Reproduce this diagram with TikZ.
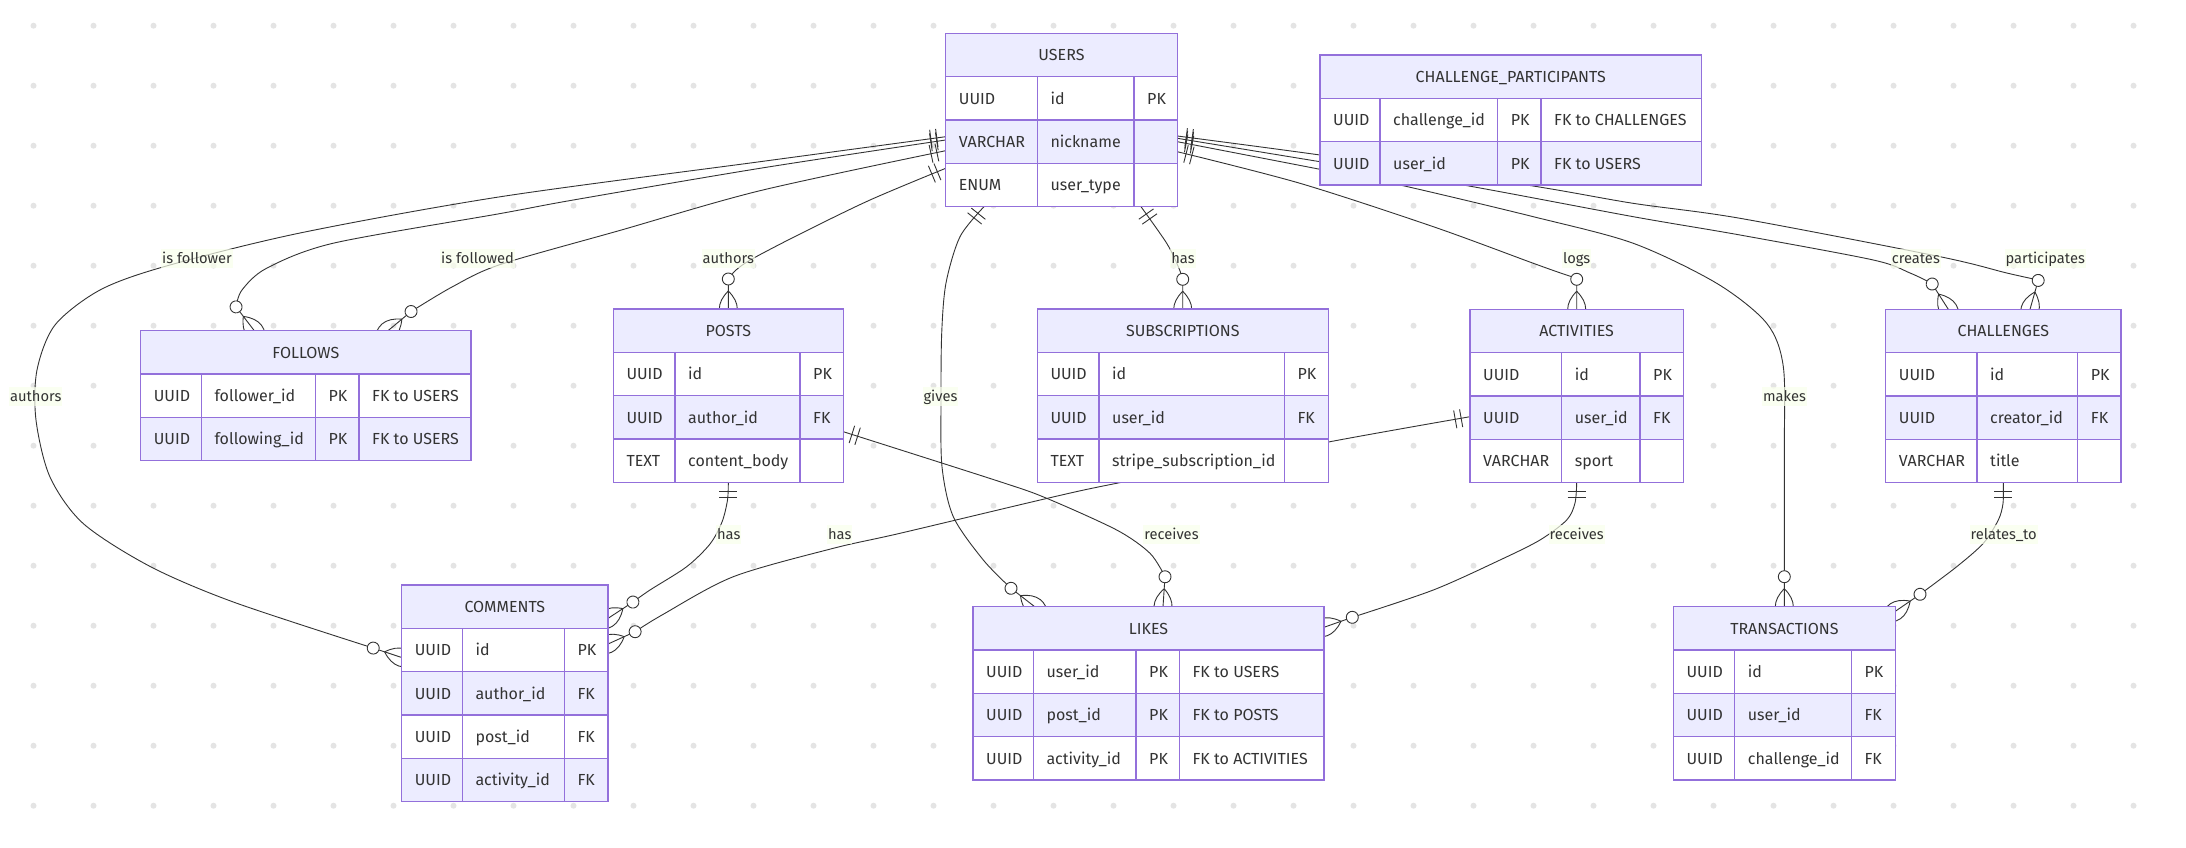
\documentclass[tikz,border=0pt]{standalone}
\usepackage{fontspec}
\setmainfont{Fira Sans}
\definecolor{lav}{HTML}{ECECFF}
\definecolor{pur}{HTML}{9370DB}
\definecolor{txt}{HTML}{333333}
\definecolor{dotc}{HTML}{E4E4E4}
\definecolor{lblbg}{HTML}{F9FFEC}
\definecolor{edgec}{HTML}{333333}
\tikzset{
  cellb/.style={draw=pur, line width=1.2pt},
  ctext/.style={anchor=west, inner sep=0pt, text height=11.5pt, text depth=0pt, text=txt, font=\fontsize{16}{19}\selectfont},
  htext/.style={inner sep=0pt, text height=11.5pt, text depth=0pt, text=txt, font=\fontsize{16}{19}\selectfont},
  rel/.style={draw=edgec, line width=0.9pt},
  mk/.style={draw=edgec, line width=0.9pt},
  lbl/.style={fill=lblbg, fill opacity=0.7, text opacity=1, text=txt, inner xsep=1pt, inner ysep=2.5pt, text height=12pt, text depth=2pt, font=\fontsize{14.7}{17}\selectfont},
}
\newcommand\settable[7]{\def\tbname{#1}\def\tT{#2}\def\xA{#3}\def\xB{#4}\def\xC{#5}\def\xD{#6}\def\xE{#7}}
\newcommand\hdr[1]{%
  \pgfmathsetmacro\yb{\tT+43.333}\pgfmathsetmacro\ym{\tT+21.667}\pgfmathsetmacro\xm{(\xA+\xE)/2}%
  \draw[cellb, fill=lav] (\xA,\tT) rectangle (\xE,\yb);%
  \node[htext] (\tbname) at (\xm,\ym) {#1};}
\newcommand\rowIII[4]{%
  \pgfmathsetmacro\yt{\tT+43.333*#1}\pgfmathsetmacro\yb{\yt+43.333}\pgfmathsetmacro\ym{\yt+21.667}%
  \ifodd#1 \def\rf{white}\else\def\rf{lav}\fi
  \draw[cellb, fill=\rf] (\xA,\yt) rectangle (\xB,\yb) (\xB,\yt) rectangle (\xC,\yb) (\xC,\yt) rectangle (\xE,\yb);%
  \node[ctext] (\tbname-#1a) at (\xA+13,\ym) {#2};
  \node[ctext] (\tbname-#1b) at (\xB+13,\ym) {#3};
  \node[ctext] (\tbname-#1c) at (\xC+13,\ym) {#4};}
\newcommand\rowIV[5]{%
  \pgfmathsetmacro\yt{\tT+43.333*#1}\pgfmathsetmacro\yb{\yt+43.333}\pgfmathsetmacro\ym{\yt+21.667}%
  \ifodd#1 \def\rf{white}\else\def\rf{lav}\fi
  \draw[cellb, fill=\rf] (\xA,\yt) rectangle (\xB,\yb) (\xB,\yt) rectangle (\xC,\yb) (\xC,\yt) rectangle (\xD,\yb) (\xD,\yt) rectangle (\xE,\yb);%
  \node[ctext] (\tbname-#1a) at (\xA+13,\ym) {#2};
  \node[ctext] (\tbname-#1b) at (\xB+13,\ym) {#3};
  \node[ctext] (\tbname-#1c) at (\xC+13,\ym) {#4};
  \node[ctext] (\tbname-#1d) at (\xD+13,\ym) {#5};}
% only-one marker at start: x y, direction away from entity
\newcommand\oneM[4]{%
  \pgfmathsetmacro\mang{atan2(-(#4),#3)}%
  \begin{scope}[shift={(#1,#2)}, rotate=\mang]
    \draw[mk] (9pt,-9pt) -- (9pt,9pt) (15pt,-9pt) -- (15pt,9pt);
  \end{scope}}
% zero-or-more marker at end: x y, direction into entity
\newcommand\manyM[4]{%
  \pgfmathsetmacro\mang{atan2(-(#4),#3)}%
  \begin{scope}[shift={(#1,#2)}, rotate=\mang]
    \draw[mk] (-18pt,0pt) .. controls (-6pt,12pt) and (6pt,12pt) .. (18pt,0pt);
    \draw[mk] (-18pt,0pt) .. controls (-6pt,-12pt) and (6pt,-12pt) .. (18pt,0pt);
    \draw[mk, fill=white] (-30pt,0pt) circle (6pt);
  \end{scope}}
\begin{document}
\begin{tikzpicture}[x=1pt,y=-1pt]
\useasboundingbox (0,0) rectangle (2186,848);
\fill[white] (0,0) rectangle (2186,848);
\foreach \i in {0,...,35}{\foreach \j in {0,...,13}{\fill[dotc] (33.5+60*\i,25.7+60*\j) circle (3pt);}}

% ---------- connectors ----------
% USERS -> COMMENTS (authors)
\coordinate (sA) at (945.7,136.7); \coordinate (tA) at (401.7,657.5);
\draw[rel] plot[smooth] coordinates {(sA) (760,161.7) (500,196.8) (300,233) (165,266.4) (100,290) (55,325) (37,370) (36,420) (50,477) (83.3,523.6) (150,566.4) (233.3,602) (372.7,647.9)} -- (tA);
\oneM{945.7}{136.7}{-185.7}{25}
\manyM{401.7}{657.5}{29}{9.6}
% USERS -> FOLLOWS (is follower)
\coordinate (sB) at (945.7,140); \coordinate (tB) at (254.3,330.7);
\draw[rel] plot[smooth] coordinates {(sB) (760,168.3) (573.3,200) (500,213.6) (333.3,243.2) (266.7,268.2) (242,290) (236,306.8)} -- (tB);
\oneM{945.7}{140}{-185.7}{28.3}
\manyM{254.3}{330.7}{18.3}{23.9}
% USERS -> FOLLOWS (is followed)
\coordinate (sC) at (945.7,150.7); \coordinate (tC) at (388,330.7);
\draw[rel] plot[smooth] coordinates {(sC) (760,190.7) (620,230.4) (500,264.6) (452,287) (410.7,311.8)} -- (tC);
\oneM{945.7}{150.7}{-185.7}{40}
\manyM{388}{330.7}{-22.7}{18.9}
% USERS -> POSTS (authors)
\coordinate (sD) at (945.7,168.3); \coordinate (tD) at (728.3,309);
\draw[rel] plot[smooth] coordinates {(sD) (870,200) (800,234) (752,259) (736,270) (728.3,279)} -- (tD);
\oneM{945.7}{168.3}{-75.7}{31.7}
\manyM{728.3}{309}{0}{30}
% USERS -> LIKES (gives)
\coordinate (sE) at (984,206.7); \coordinate (tE) at (1034.7,606.7);
\draw[rel] plot[smooth] coordinates {(sE) (960,236.7) (946,283) (941.7,333.3) (941,400) (942,466.7) (953.3,516.7) (983.3,560) (1011,588.3)} -- (tE);
\oneM{984}{206.7}{-24}{30}
\manyM{1034.7}{606.7}{23.7}{18.4}
% USERS -> SUBSCRIPTIONS (has)
\coordinate (sF) at (1141,206.7); \coordinate (tF) at (1182.7,309.3);
\draw[rel] plot[smooth] coordinates {(sF) (1166.7,243.3) (1178.3,266.7) (1182.7,279)} -- (tF);
\oneM{1141}{206.7}{25.7}{36.6}
\manyM{1182.7}{309.3}{0}{30}
% USERS -> ACTIVITIES (logs)
\coordinate (sG) at (1177.3,151.7); \coordinate (tG) at (1576.7,309.3);
\draw[rel] plot[smooth] coordinates {(sG) (1300,183.3) (1433.3,226.7) (1533.3,263.3) (1562,273.5) (1576.7,278.3)} -- (tG);
\oneM{1177.3}{151.7}{122.7}{31.6}
\manyM{1576.7}{309.3}{0}{30}
% USERS -> TRANSACTIONS (makes)
\coordinate (sH) at (1177.3,141.7); \coordinate (tH) at (1784.3,606.7);
\draw[rel] plot[smooth] coordinates {(sH) (1320,169.3) (1400,185) (1533.3,216.7) (1633.3,243.3) (1716.7,283.3) (1766.7,323.3) (1783.3,366.7) (1784.3,450) (1784.3,576)} -- (tH);
\oneM{1177.3}{141.7}{142.7}{27.6}
\manyM{1784.3}{606.7}{0}{30}
% USERS -> CHALLENGES (creates)
\coordinate (sI) at (1177.3,138.3); \coordinate (tI) at (1948.3,309.3);
\draw[rel] plot[smooth] coordinates {(sI) (1320,161.7) (1463.3,185) (1633.3,216.7) (1740,235) (1873.3,260) (1910,273) (1931.7,283.3)} -- (tI);
\oneM{1177.3}{138.3}{142.7}{23.4}
\manyM{1948.3}{309.3}{16.6}{26}
% USERS -> CHALLENGES (participates)
\coordinate (sJ) at (1177.3,136); \coordinate (tJ) at (2030,309.3);
\draw[rel] plot[smooth] coordinates {(sJ) (1320,155) (1526.7,185) (1633,203.3) (1740,218.3) (1940,256.7) (2006.7,273) (2038.3,280)} -- (tJ);
\oneM{1177.3}{136}{142.7}{19}
\manyM{2030}{309.3}{-8.3}{29.3}
% POSTS -> COMMENTS (has)
\coordinate (sK) at (728.3,482.3); \coordinate (tK) at (607.8,618.5);
\draw[rel] plot[smooth] coordinates {(sK) (727.5,500) (722,522) (710,544) (686.7,566.7) (650,590) (633,602)} -- (tK);
\oneM{728.3}{482.3}{0}{1}
\manyM{607.8}{618.5}{-25.2}{16.5}
% ACTIVITIES -> COMMENTS (has)
\coordinate (sL) at (1470,416.7); \coordinate (tL) at (607.8,644.1);
\draw[rel] plot[smooth] coordinates {(sL) (1330,441.7) (1120,482.6) (1050,497.7) (900,533.3) (833.3,548.3) (733.3,576.7) (662,615) (635.1,631.7)} -- (tL);
\oneM{1470}{416.7}{-140}{25}
\manyM{607.8}{644.1}{-27.3}{12.4}
% POSTS -> LIKES (receives)
\coordinate (sM) at (843.3,431.7); \coordinate (tM) at (1163,606.7);
\draw[rel] plot[smooth] coordinates {(sM) (1000,481.7) (1046.7,498.3) (1116.7,530) (1150,553.3) (1165,576.7)} -- (tM);
\oneM{843.3}{431.7}{156.7}{50}
\manyM{1163}{606.7}{-2}{30}
% ACTIVITIES -> LIKES (receives)
\coordinate (sN) at (1576.7,482.3); \coordinate (tN) at (1324,627.3);
\draw[rel] plot[smooth] coordinates {(sN) (1575,503) (1566.7,520) (1540,540) (1500,560) (1433.3,590) (1352.3,617.3)} -- (tN);
\oneM{1576.7}{482.3}{0}{1}
\manyM{1324}{627.3}{-28.3}{10}
% CHALLENGES -> TRANSACTIONS (relates_to)
\coordinate (sO) at (2003.3,482.3); \coordinate (tO) at (1895.3,611.3);
\draw[rel] plot[smooth] coordinates {(sO) (2003,503.3) (1998.3,520) (1983.3,543.3) (1956.7,566.7) (1920,594.3)} -- (tO);
\oneM{2003.3}{482.3}{0}{1}
\manyM{1895.3}{611.3}{-24.7}{17}

% ---------- labels ----------
\node[lbl] (lB) at (197,258.3) {is follower};
\node[lbl] (lC) at (477.6,258.3) {is followed};
\node[lbl] (lD) at (728.3,258.3) {authors};
\node[lbl] (lF) at (1183,258.3) {has};
\node[lbl] (lG) at (1576.7,258.3) {logs};
\node[lbl] (lI) at (1915.8,258.3) {creates};
\node[lbl] (lJ) at (2045.2,258.3) {participates};
\node[lbl] (lA) at (35.8,396.5) {authors};
\node[lbl] (lE) at (940.5,396.5) {gives};
\node[lbl] (lH) at (1784.5,396.5) {makes};
\node[lbl] (lK) at (728.7,534.3) {has};
\node[lbl] (lL) at (839.7,534.3) {has};
\node[lbl] (lM) at (1171.5,534.3) {receives};
\node[lbl] (lN) at (1576.7,534.3) {receives};
\node[lbl] (lO) at (2003.7,534.3) {relates\_to};

% ---------- tables ----------
\settable{users}{33.3}{945.7}{1037.3}{1134}{1134}{1177.3}
\hdr{USERS}
\rowIII{1}{UUID}{id}{PK}
\rowIII{2}{VARCHAR}{nickname}{}
\rowIII{3}{ENUM}{user\_type}{}

\settable{cp}{55}{1320}{1380}{1497.7}{1541}{1701.5}
\hdr{CHALLENGE\_PARTICIPANTS}
\rowIV{1}{UUID}{challenge\_id}{PK}{FK to CHALLENGES}
\rowIV{2}{UUID}{user\_id}{PK}{FK to USERS}

\settable{follows}{330.7}{140.7}{201.3}{315.3}{359}{471}
\hdr{FOLLOWS}
\rowIV{1}{UUID}{follower\_id}{PK}{FK to USERS}
\rowIV{2}{UUID}{following\_id}{PK}{FK to USERS}

\settable{posts}{309}{613.3}{675}{800}{800}{843.3}
\hdr{POSTS}
\rowIII{1}{UUID}{id}{PK}
\rowIII{2}{UUID}{author\_id}{FK}
\rowIII{3}{TEXT}{content\_body}{}

\settable{subs}{309}{1037.3}{1099}{1284.3}{1284.3}{1328.3}
\hdr{SUBSCRIPTIONS}
\rowIII{1}{UUID}{id}{PK}
\rowIII{2}{UUID}{user\_id}{FK}
\rowIII{3}{TEXT}{stripe\_subscription\_id}{}

\settable{acts}{309.3}{1470}{1561.7}{1640}{1640}{1683.3}
\hdr{ACTIVITIES}
\rowIII{1}{UUID}{id}{PK}
\rowIII{2}{UUID}{user\_id}{FK}
\rowIII{3}{VARCHAR}{sport}{}

\settable{chal}{309.3}{1885.7}{1977}{2077.7}{2077.7}{2121}
\hdr{CHALLENGES}
\rowIII{1}{UUID}{id}{PK}
\rowIII{2}{UUID}{creator\_id}{FK}
\rowIII{3}{VARCHAR}{title}{}

\settable{comments}{585}{401.7}{462.3}{564.4}{564.4}{608}
\hdr{COMMENTS}
\rowIII{1}{UUID}{id}{PK}
\rowIII{2}{UUID}{author\_id}{FK}
\rowIII{3}{UUID}{post\_id}{FK}
\rowIII{4}{UUID}{activity\_id}{FK}

\settable{likes}{606.7}{973}{1033.3}{1136}{1179.4}{1324}
\hdr{LIKES}
\rowIV{1}{UUID}{user\_id}{PK}{FK to USERS}
\rowIV{2}{UUID}{post\_id}{PK}{FK to POSTS}
\rowIV{3}{UUID}{activity\_id}{PK}{FK to ACTIVITIES}

\settable{trans}{606.7}{1673.4}{1734.7}{1851.4}{1851.4}{1895.3}
\hdr{TRANSACTIONS}
\rowIII{1}{UUID}{id}{PK}
\rowIII{2}{UUID}{user\_id}{FK}
\rowIII{3}{UUID}{challenge\_id}{FK}
\end{tikzpicture}
\end{document}
